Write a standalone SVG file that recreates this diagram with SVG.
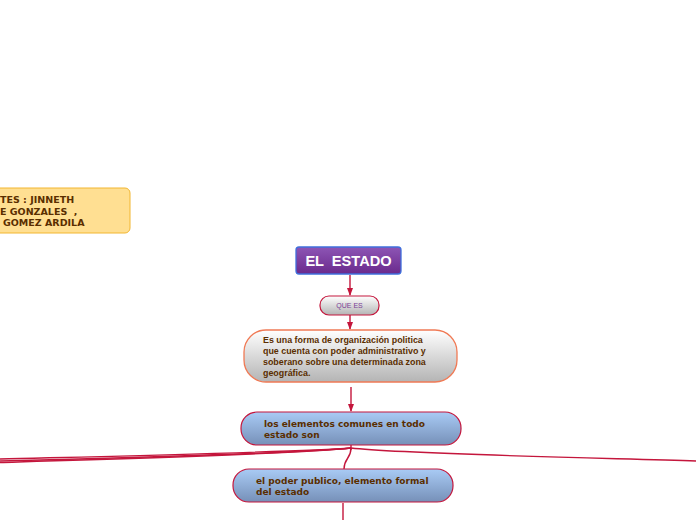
<svg xmlns="http://www.w3.org/2000/svg" width="696" height="520" viewBox="0 0 696 520">
<defs>
<linearGradient id="gPurple" x1="0" y1="0" x2="0" y2="1"><stop offset="0" stop-color="#8d55b5"/><stop offset="1" stop-color="#6a2a8c"/></linearGradient>
<linearGradient id="gGray" x1="0" y1="0" x2="0" y2="1"><stop offset="0" stop-color="#ffffff"/><stop offset="1" stop-color="#b4b4b4"/></linearGradient>
<linearGradient id="gBlue" x1="0" y1="0" x2="0" y2="1"><stop offset="0" stop-color="#a9cbf5"/><stop offset="1" stop-color="#7690b8"/></linearGradient>
<marker id="arr" markerWidth="8" markerHeight="6" refX="7" refY="3" orient="auto" markerUnits="userSpaceOnUse"><path d="M0,0 L8,3 L0,6 Z" fill="#c4163c"/></marker>
</defs>
<style>
.c{fill:none;stroke:#c4163c;stroke-width:1.4}
.t{font-family:"DejaVu Sans",Verdana,sans-serif;font-weight:bold;fill:#5a2e00}
.a{font-family:"Liberation Sans",Arial,sans-serif;font-weight:bold;fill:#5a2e00}
</style>
<rect width="696" height="520" fill="#ffffff"/>
<g id="connectors">
<path class="c" d="M350,275 L350,295" marker-end="url(#arr)"/>
<path class="c" d="M350,315 L350,329" marker-end="url(#arr)"/>
<path class="c" d="M351,387 L351,411" marker-end="url(#arr)"/>
<path class="c" d="M351,445 L351,450"/>
<path class="c" d="M351,448 C300,452 120,456 0,459"/>
<path class="c" d="M351,448 C300,453 120,458 0,461"/>
<path class="c" d="M351,448 C300,454 120,459 0,462.5"/>
<path class="c" d="M351,448 C400,454 600,458 696,461"/>
<path class="c" d="M351,448 C351,459 344,458 344,469"/>
<path class="c" d="M343,503 L343,520"/>
</g>
<g id="integrantes">
<rect x="-20" y="188" width="150" height="45" rx="5" fill="#ffdf92" stroke="#f2b631" stroke-width="1"/>
<text class="t" font-size="9.5" x="0" y="203">TES : JINNETH</text>
<text class="t" font-size="9.5" x="0" y="215" xml:space="preserve">E GONZALES  ,</text>
<text class="t" font-size="9.5" x="3" y="226">GOMEZ ARDILA</text>
</g>
<g id="el-estado">
<rect x="296" y="247" width="105" height="27" rx="3" fill="url(#gPurple)" stroke="#3f6fdc" stroke-width="1.3"/>
<text x="348.5" y="266" text-anchor="middle" font-family="Liberation Sans,Arial,sans-serif" font-weight="bold" font-size="14.6" fill="#ffffff" xml:space="preserve">EL  ESTADO</text>
</g>
<g id="que-es">
<rect x="320" y="296" width="59" height="19" rx="9" fill="url(#gGray)" stroke="#c4163c" stroke-width="1.2"/>
<text x="349.5" y="308" text-anchor="middle" font-family="Liberation Sans,Arial,sans-serif" font-size="7" fill="#7a3e96">QUE ES</text>
</g>
<g id="definicion">
<rect x="244" y="330" width="213" height="52" rx="22" fill="url(#gGray)" stroke="#f07a55" stroke-width="1.3"/>
<text class="a" font-size="8.9" x="263" y="343">Es una forma de organización politica</text>
<text class="a" font-size="8.9" x="263" y="354">que cuenta con poder administrativo y</text>
<text class="a" font-size="8.9" x="263" y="365">soberano sobre una determinada zona</text>
<text class="a" font-size="8.9" x="263" y="376">geográfica.</text>
</g>
<g id="elementos">
<rect x="241" y="412" width="220" height="33" rx="16" fill="url(#gBlue)" stroke="#c4163c" stroke-width="1.2"/>
<text class="t" font-size="9" x="264" y="427">los elementos comunes en todo</text>
<text class="t" font-size="9" x="264" y="438">estado son</text>
</g>
<g id="poder-publico">
<rect x="233" y="469" width="220" height="33" rx="16" fill="url(#gBlue)" stroke="#c4163c" stroke-width="1.2"/>
<text class="t" font-size="9" x="256" y="484">el poder publico, elemento formal</text>
<text class="t" font-size="9" x="256" y="495">del estado</text>
</g>
</svg>
